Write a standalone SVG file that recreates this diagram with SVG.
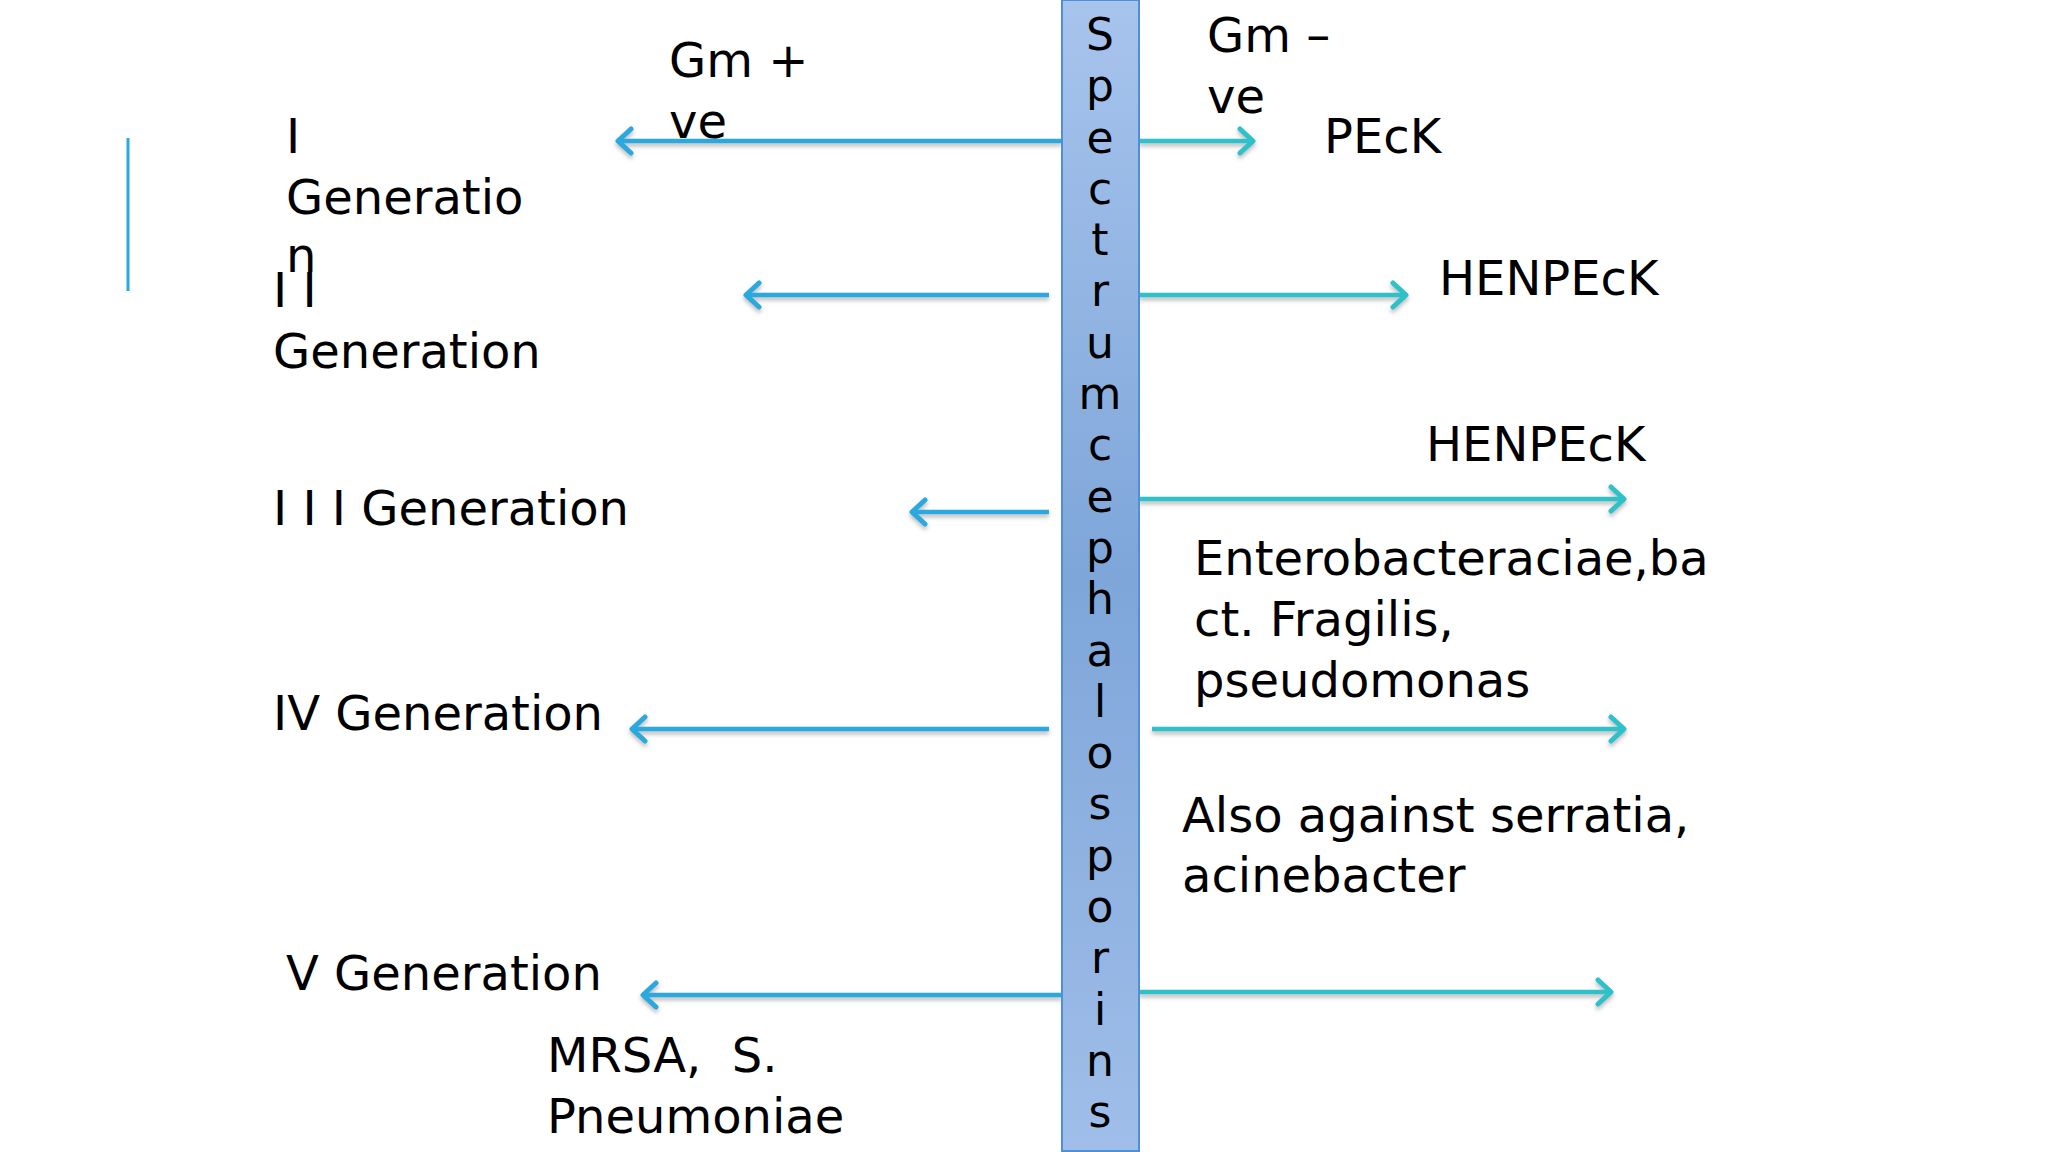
<svg xmlns="http://www.w3.org/2000/svg" width="2048" height="1152" viewBox="0 0 2048 1152">
<defs>
<linearGradient id="boxg" x1="0" y1="0" x2="0" y2="1">
<stop offset="0" stop-color="#a7c4ed"/>
<stop offset="0.5" stop-color="#7ea6d9"/>
<stop offset="1" stop-color="#a0bee9"/>
</linearGradient>
<filter id="sh" filterUnits="userSpaceOnUse" x="0" y="0" width="2048" height="1152">
<feDropShadow dx="0" dy="3" stdDeviation="2" flood-color="#808080" flood-opacity="0.55"/>
</filter>
<marker id="hl" viewBox="0 0 20 30" refX="18" refY="15" markerWidth="20" markerHeight="30" markerUnits="userSpaceOnUse" orient="auto">
<path d="M4,3 L17,15 L4,27" fill="none" stroke="#2aa9df" stroke-width="5" stroke-linecap="round" stroke-linejoin="round"/>
</marker>
<marker id="hr" viewBox="0 0 20 30" refX="18" refY="15" markerWidth="20" markerHeight="30" markerUnits="userSpaceOnUse" orient="auto">
<path d="M4,3 L17,15 L4,27" fill="none" stroke="#2fc1ca" stroke-width="5" stroke-linecap="round" stroke-linejoin="round"/>
</marker>
</defs>
<style>
text{font-family:"DejaVu Sans","Liberation Sans",sans-serif;fill:#000;}
.t{font-size:48px;}
.b{font-size:44px;text-anchor:middle;}
.l{stroke:#2aa9df;stroke-width:4.5;fill:none;marker-end:url(#hl);}
.r{stroke:#2fc1ca;stroke-width:4.5;fill:none;marker-end:url(#hr);}
</style>
<rect width="2048" height="1152" fill="#ffffff"/>
<line x1="128" y1="138" x2="128" y2="291" stroke="#2aa9df" stroke-width="3"/>
<g id="connectors" filter="url(#sh)">
<line class="l" x1="1062" y1="141" x2="617" y2="141"/>
<line class="r" x1="1139" y1="141" x2="1254" y2="141"/>
<line class="l" x1="1049" y1="295" x2="745" y2="295"/>
<line class="r" x1="1139" y1="295" x2="1407" y2="295"/>
<line class="l" x1="1049" y1="512" x2="911" y2="512"/>
<line class="r" x1="1139" y1="499" x2="1625" y2="499"/>
<line class="l" x1="1049" y1="729" x2="631" y2="729"/>
<line class="r" x1="1152" y1="729" x2="1625" y2="729"/>
<line class="l" x1="1062" y1="995" x2="642" y2="995"/>
<line class="r" x1="1139" y1="992" x2="1612" y2="992"/>
</g>
<g id="spectrum">
<rect x="1062" y="0" width="77" height="1151" fill="url(#boxg)" stroke="#4f8fd8" stroke-width="2"/>
<text class="b" x="1100" y="50">S</text>
<text class="b" x="1100" y="101">p</text>
<text class="b" x="1100" y="153">e</text>
<text class="b" x="1100" y="204">c</text>
<text class="b" x="1100" y="255">t</text>
<text class="b" x="1100" y="306">r</text>
<text class="b" x="1100" y="358">u</text>
<text class="b" x="1100" y="409">m</text>
<text class="b" x="1100" y="460">c</text>
<text class="b" x="1100" y="512">e</text>
<text class="b" x="1100" y="563">p</text>
<text class="b" x="1100" y="614">h</text>
<text class="b" x="1100" y="666">a</text>
<text class="b" x="1100" y="717">l</text>
<text class="b" x="1100" y="768">o</text>
<text class="b" x="1100" y="819">s</text>
<text class="b" x="1100" y="871">p</text>
<text class="b" x="1100" y="922">o</text>
<text class="b" x="1100" y="973">r</text>
<text class="b" x="1100" y="1025">i</text>
<text class="b" x="1100" y="1076">n</text>
<text class="b" x="1100" y="1127">s</text>
</g>
<g id="gmpos">
<text class="t" x="669" y="77">Gm +</text>
<text class="t" x="669" y="138">ve</text>
</g>
<g id="gmneg">
<text class="t" x="1207" y="52">Gm –</text>
<text class="t" x="1207" y="113">ve</text>
</g>
<g id="gen1">
<text class="t" x="286" y="153">I</text>
<text class="t" x="286" y="214">Generatio</text>
<text class="t" x="286" y="272">n</text>
</g>
<g id="gen2">
<text class="t" x="273" y="307">I I</text>
<text class="t" x="273" y="368">Generation</text>
</g>
<g id="gen3"><text class="t" x="273" y="525">I I I Generation</text></g>
<g id="gen4"><text class="t" x="273" y="730">IV Generation</text></g>
<g id="gen5"><text class="t" x="286" y="990">V Generation</text></g>
<g id="mrsa">
<text class="t" x="547" y="1072" xml:space="preserve">MRSA,  S.</text>
<text class="t" x="547" y="1133">Pneumoniae</text>
</g>
<g id="peck"><text class="t" x="1324" y="153">PEcK</text></g>
<g id="henpeck1"><text class="t" x="1439" y="295">HENPEcK</text></g>
<g id="henpeck2"><text class="t" x="1426" y="461">HENPEcK</text></g>
<g id="entero">
<text class="t" x="1194" y="575">Enterobacteraciae,ba</text>
<text class="t" x="1194" y="636">ct. Fragilis,</text>
<text class="t" x="1194" y="697">pseudomonas</text>
</g>
<g id="serratia">
<text class="t" x="1182" y="832">Also against serratia,</text>
<text class="t" x="1182" y="892">acinebacter</text>
</g>
</svg>
